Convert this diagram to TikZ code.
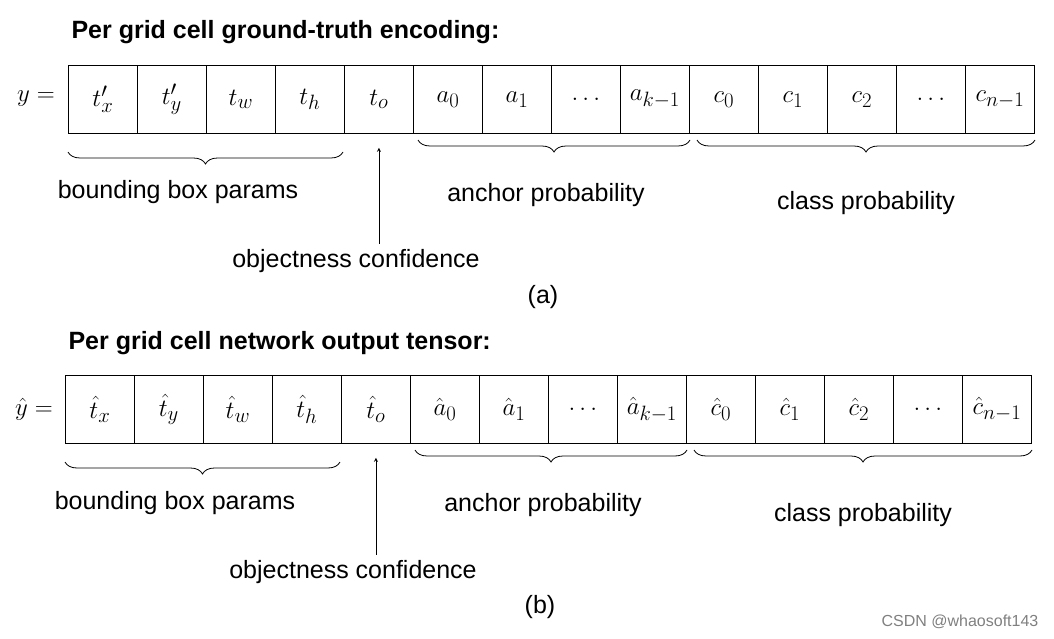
\documentclass[tikz,border=0pt]{standalone}
\usepackage{fontspec}
\setmainfont{Liberation Sans}
\usetikzlibrary{decorations.pathreplacing}
\begin{document}
\begin{tikzpicture}[x=1pt,y=-1pt,
 cell/.style={draw,thick,minimum width=69pt,minimum height=68pt,anchor=north west,inner sep=0pt,font=\fontsize{28}{30}\selectfont},
 br/.style={decorate,decoration={brace,mirror,amplitude=12pt},thick},
 lbl/.style={font=\fontsize{25}{28}\selectfont},
 ttl/.style={font=\fontsize{25}{28}\selectfont\bfseries,anchor=west}]
\useasboundingbox (0,0) rectangle (1054,639);
\node[ttl] (t1) at (68,32) {Per grid cell ground-truth encoding:};
\node[font=\fontsize{28}{30}\selectfont] (y1) at (36,99) {$y=$};
\foreach \t [count=\i from 0] in {{t'_x},{t'_y},{t_w},{t_h},{t_o},{a_0},{a_1},{\dots},{a_{k-1}},{c_0},{c_1},{c_2},{\dots},{c_{n-1}}}
  \node[cell] (a\i) at (68+69*\i,65) {$\t$};
\draw[br] (68,152) -- (343,152);
\draw[br] (418,140) -- (690,140);
\draw[br] (697,140) -- (1035,140);
\node[lbl] (l1) at (178,192) {bounding box params};
\node[lbl] (l2) at (546,195) {anchor probability};
\node[lbl] (l3) at (866,203) {class probability};
\node[lbl] (o1) at (356,261) {objectness confidence};
\draw[-stealth,thick] (o1.north -| a4.south) ++(0,-2) -- ([yshift=-14pt]a4.south);
\node[lbl] (p1) at (543,297) {(a)};
\node[ttl] (t2) at (65,343) {Per grid cell network output tensor:};
\node[font=\fontsize{28}{30}\selectfont] (y2) at (34,409) {$\hat{y}=$};
\foreach \t [count=\i from 0] in {{\hat t_x},{\hat t_y},{\hat t_w},{\hat t_h},{\hat t_o},{\hat a_0},{\hat a_1},{\dots},{\hat a_{k-1}},{\hat c_0},{\hat c_1},{\hat c_2},{\dots},{\hat c_{n-1}}}
  \node[cell] (b\i) at (65+69*\i,375) {$\t$};
\draw[br] (65,462) -- (340,462);
\draw[br] (415,450) -- (687,450);
\draw[br] (694,450) -- (1032,450);
\node[lbl] (l4) at (175,503) {bounding box params};
\node[lbl] (l5) at (543,505) {anchor probability};
\node[lbl] (l6) at (863,515) {class probability};
\node[lbl] (o2) at (353,572) {objectness confidence};
\draw[-stealth,thick] (o2.north -| b4.south) ++(0,-2) -- ([yshift=-14pt]b4.south);
\node[lbl] (p2) at (540,607) {(b)};
\node[font=\fontsize{16}{18}\selectfont,text=gray] (wm) at (960,622) {CSDN @whaosoft143};
\end{tikzpicture}
\end{document}
